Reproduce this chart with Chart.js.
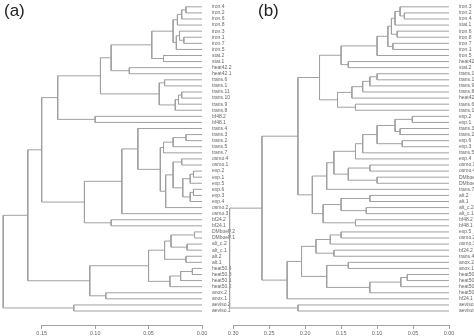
<!DOCTYPE html>
<html>
<head>
<meta charset="utf-8">
<script src="https://cdn.jsdelivr.net/npm/chart.js@4"></script>
<style>
body{margin:0;background:#fff;width:474px;height:336px;overflow:hidden;position:relative;font-family:"Liberation Sans",Arial,sans-serif}
canvas{position:absolute;top:0}
#cA{left:0}
#cB{left:226px}
.tag{position:absolute;top:1px;font-size:17px;color:#222}
</style>
</head>
<body>
<canvas id="cA" width="240" height="336"></canvas>
<canvas id="cB" width="248" height="336"></canvas>
<div class="tag" style="left:4px">(a)</div>
<div class="tag" style="left:258px">(b)</div>
<script>
// leaf order, top to bottom
var leavesA = ["iron.4","iron.2","iron.6","iron.8","iron.3","iron.1","iron.7","iron.5","stat.2","stat.1",
  "heat42.2","heat42.1","trans.6","trans.1","trans.11","trans.10","trans.9","trans.8","bf48.2","bf48.1",
  "trans.4","trans.3","trans.2","trans.5","trans.7","osmo.4","osmo.1","exp.2","exp.1","exp.5",
  "exp.6","exp.3","exp.4","osmo.2","osmo.3","bf24.2","bf24.1","DMboeP.2","DMboeP.1","alt_c.2",
  "alt_c.1","alt.2","alt.1","heat50.4","heat50.3","heat50.1","heat50.2","anox.2","anox.1","aeviso.2","aeviso.1"];

// merges: [child, child, height]  (string = leaf, number = earlier merge)
var mergesA = [
  ["iron.4","iron.2",0.015],[0,"iron.6",0.019],[1,"iron.8",0.023],["iron.1","iron.7",0.017],["iron.3",3,0.021],
  [4,"iron.5",0.024],[2,5,0.027],["stat.2","stat.1",0.036],[6,7,0.047],["heat42.2","heat42.1",0.068],
  [8,9,0.085],["trans.11","trans.10",0.019],[11,"trans.9",0.022],[12,"trans.8",0.025],["trans.6","trans.1",0.035],
  [14,13,0.04],[10,15,0.095],["bf48.2","bf48.1",0.1],[16,17,0.135],["trans.3","trans.2",0.015],
  [19,"trans.5",0.027],[20,"trans.7",0.036],["osmo.4","osmo.1",0.019],["exp.2","exp.1",0.008],[23,"exp.5",0.011],
  ["exp.6","exp.3",0.008],[25,"exp.4",0.011],[24,26,0.018],[22,27,0.027],[28,"osmo.2",0.034],
  [21,29,0.039],["trans.4",30,0.06],[31,"osmo.3",0.075],["bf24.2","bf24.1",0.085],[32,33,0.11],
  [18,34,0.15],["DMboeP.2","DMboeP.1",0.007],["alt_c.2","alt_c.1",0.014],[36,37,0.029],["alt.2","alt.1",0.015],
  [38,39,0.035],["heat50.4","heat50.3",0.009],[41,"heat50.1",0.02],[42,"heat50.2",0.03],[40,43,0.05],
  ["anox.2","anox.1",0.09],[44,45,0.105],[35,46,0.163],["aeviso.2","aeviso.1",0.12],[47,48,0.186]
];
var ticksA = [0.15,0.10,0.05,0.00];

var leavesB = ["iron.3","iron.2","iron.4","stat.1","iron.6","iron.8","iron.7","iron.1","iron.5","heat42.2",
  "stat.2","trans.11","trans.10","trans.9","trans.8","heat42.1","trans.6","trans.1","exp.2","exp.1",
  "trans.3","trans.2","exp.6","exp.3","trans.5","exp.4","osmo.1","osmo.4","DMboeP.2","DMboeP.1",
  "trans.7","alt.2","alt.1","alt_c.2","alt_c.1","bf48.2","bf48.1","exp.5","osmo.2","osmo.3",
  "bf24.2","trans.4","anox.2","anox.1","heat50.4","heat50.1","heat50.3","heat50.2","bf24.1","aeviso.2","aeviso.1"];

var mergesB = [
  ["iron.2","iron.4",0.062],["iron.3",0,0.068],[1,"stat.1",0.075],["iron.6","iron.8",0.072],[2,3,0.08],
  ["iron.7","iron.1",0.078],[4,5,0.085],[6,"iron.5",0.1],["trans.11","trans.10",0.1],[8,"trans.9",0.11],
  [9,"trans.8",0.12],["heat42.2","stat.2",0.14],[7,11,0.15],[10,"heat42.1",0.135],["trans.6","trans.1",0.13],
  [13,14,0.155],[12,15,0.18],["exp.2","exp.1",0.051],["trans.3","trans.2",0.068],[17,18,0.075],
  ["exp.6","exp.3",0.065],[19,20,0.1],[21,"trans.5",0.12],[22,"exp.4",0.13],["osmo.1","osmo.4",0.11],
  ["DMboeP.2","DMboeP.1",0.1],[24,25,0.14],[23,26,0.16],[27,"trans.7",0.17],["alt.2","alt.1",0.11],
  ["alt_c.2","alt_c.1",0.115],[29,30,0.15],["bf48.2","bf48.1",0.13],[31,32,0.175],[28,33,0.19],
  [16,34,0.21],["exp.5","osmo.2",0.15],[36,"osmo.3",0.165],["bf24.2","trans.4",0.16],[37,38,0.185],
  ["anox.2","anox.1",0.14],["heat50.4","heat50.1",0.058],[41,"heat50.3",0.067],[42,"heat50.2",0.11],[40,43,0.17],
  [39,44,0.205],[45,"bf24.1",0.225],[35,46,0.26],["aeviso.2","aeviso.1",0.21],[47,48,0.305]
];
var ticksB = [0.30,0.25,0.20,0.15,0.10,0.05,0.00];

var lineCol = "#a0a0a0";
var textCol = "#666";

// one dataset per merge: child -> elbow -> child
function treeSets(leaves, merges){
  var nodes = [];
  var sets = [];
  function pos(c){
    if(typeof c === "string") return {x:0, y:leaves.indexOf(c)};
    return nodes[c];
  }
  for(var i=0;i<merges.length;i++){
    var a = pos(merges[i][0]), b = pos(merges[i][1]), h = merges[i][2];
    nodes.push({x:h, y:(a.y+b.y)/2});
    sets.push({
      data:[{x:a.x,y:a.y},{x:h,y:a.y},{x:h,y:b.y},{x:b.x,y:b.y}],
      showLine:true, borderColor:lineCol, borderWidth:1, pointRadius:0, tension:0
    });
  }
  return sets;
}

var axisLine = {
  id:"axisLine",
  afterDraw:function(chart){
    var sx = chart.scales.x, ctx = chart.ctx;
    var t = sx.ticks;
    ctx.save();
    ctx.strokeStyle = lineCol;
    ctx.lineWidth = 1;
    ctx.beginPath();
    ctx.moveTo(sx.getPixelForValue(t[0].value), sx.top+0.5);
    ctx.lineTo(sx.getPixelForValue(t[t.length-1].value), sx.top+0.5);
    ctx.stroke();
    ctx.restore();
  }
};

function dendro(id, leaves, merges, tickVals, xmax, labelW){
  new Chart(document.getElementById(id), {
    type:"scatter",
    data:{datasets:treeSets(leaves, merges)},
    plugins:[axisLine],
    options:{
      responsive:false, animation:false,
      layout:{padding:{top:2,left:0,right:0,bottom:0}},
      plugins:{legend:{display:false}, tooltip:{enabled:false}},
      scales:{
        x:{
          type:"linear", reverse:true, min:0, max:xmax,
          afterBuildTicks:function(s){ s.ticks = tickVals.map(function(v){return {value:v};}); },
          afterFit:function(s){ s.height = 11; },
          border:{display:false},
          grid:{drawOnChartArea:false, drawTicks:true, tickLength:4, color:lineCol},
          ticks:{font:{size:5.5, family:"Liberation Sans"}, color:textCol, padding:1, maxRotation:0,
            callback:function(v){ return v.toFixed(2); }}
        },
        y:{
          type:"linear", position:"right", reverse:true, min:-0.3, max:52.3,
          afterBuildTicks:function(s){ s.ticks = leaves.map(function(l,i){return {value:i};}); },
          afterFit:function(s){ s.width = labelW; },
          border:{display:false},
          grid:{display:false},
          ticks:{autoSkip:false, font:{size:5, family:"Liberation Sans"}, color:textCol, padding:2,
            callback:function(v){ return leaves[v]; }}
        }
      }
    }
  });
}

dendro("cA", leavesA, mergesA, ticksA, 0.189, 38);
dendro("cB", leavesB, mergesB, ticksB, 0.31, 25);
</script>
</body>
</html>
